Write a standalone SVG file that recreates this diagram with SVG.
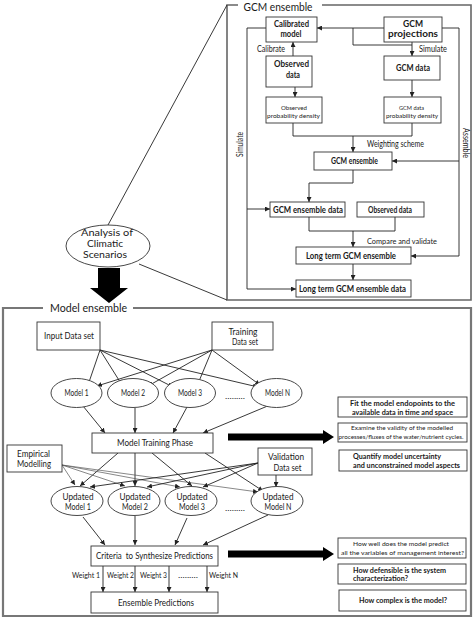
<svg xmlns="http://www.w3.org/2000/svg" width="474" height="620" viewBox="0 0 474 620">
<style>
text{font-family:Lato,"Liberation Sans",sans-serif;fill:#1a1a1a;text-anchor:middle}
.b{font-weight:bold}
.box{fill:#fff;stroke:#333;stroke-width:0.9}
.el{fill:#fff;stroke:#333;stroke-width:0.9}
.frame{fill:none;stroke:#666;stroke-width:1.6}
.frame2{fill:none;stroke:#777;stroke-width:2.2}
.c{fill:none;stroke:#222;stroke-width:0.9}
.g{fill:none;stroke:#555;stroke-width:0.7}
.a{marker-end:url(#ah)}
.t9{font-size:9px}
.t8{font-size:8.5px}
.t7{font-size:7.5px}
.t6{font-size:6px}
.lbl{font-size:11.5px}
.s{text-anchor:start}
</style>
<defs>
<marker id="ah" viewBox="0 0 10 10" refX="10" refY="5" markerWidth="5" markerHeight="5" orient="auto" markerUnits="userSpaceOnUse"><path d="M0,0 L10,5 L0,10 z" fill="#222"/></marker>
</defs>
<rect width="474" height="620" fill="#fff"/>

<g id="gcm-frame">
<path class="frame" d="M238,5 H227 V300 H471 V5 H322"/>
<text class="lbl" x="278" y="11" textLength="69" lengthAdjust="spacingAndGlyphs">GCM ensemble</text>
</g>
<g id="model-frame">
<path class="frame2" d="M43,308 H3 V616 H471 V308 H133"/>
<text class="lbl" x="88.5" y="312" textLength="77" lengthAdjust="spacingAndGlyphs">Model ensemble</text>
</g>

<g id="connectors">
<path class="c" d="M108,225 L227,5"/>
<path class="c" d="M139,264 L227,300"/>
<polygon points="98,268 120,268 120,288 128,288 109,303 90,288 98,288" fill="#000"/>
<path class="c a" d="M384,28 H317"/>
<path class="c" d="M353,28 V45 H412"/>
<path class="c a" d="M412,42 V56"/>
<path class="c a" d="M293,56 V42"/>
<path class="c a" d="M295,87 V97"/>
<path class="c a" d="M412,80 V97"/>
<path class="c" d="M293,123 V136 H412 V123"/>
<path class="c a" d="M353,136 V152"/>
<path class="c" d="M442,28 H459 V256"/>
<path class="c a" d="M459,256 H411"/>
<path class="c a" d="M459,161 H392"/>
<path class="c" d="M266,28 H247 V289"/>
<path class="c a" d="M247,289 H296"/>
<path class="c a" d="M247,209 H270"/>
<path class="c a" d="M353,170 V183 H309 V202"/>
<path class="c" d="M309,217 V231 H395 V217"/>
<path class="c a" d="M353,231 V247"/>
<path class="c a" d="M353,264 V280"/>
<path class="c a" d="M100,350 L88,385"/>
<path class="c a" d="M100,350 L122,385"/>
<path class="c a" d="M100,350 L173,387"/>
<path class="c a" d="M100,350 L258,387"/>
<path class="c a" d="M212,350 L97,386"/>
<path class="c a" d="M212,350 L148,386"/>
<path class="c a" d="M212,350 L197,386"/>
<path class="c a" d="M212,350 L260,385"/>
<path class="c a" d="M83,406 L105,433"/>
<path class="c a" d="M135,408 V433"/>
<path class="c a" d="M187,407 L173,433"/>
<path class="c a" d="M270,405 L203,433"/>
<path class="c a" d="M118,453 L80,486"/>
<path class="c a" d="M135,453 V486"/>
<path class="c a" d="M152,453 L192,486"/>
<path class="c a" d="M205,453 L263,491"/>
<path class="g a" d="M62,465 L75,485"/>
<path class="g a" d="M62,465 L125,486"/>
<path class="g a" d="M62,465 L180,487"/>
<path class="g a" d="M62,465 L258,492"/>
<path class="c a" d="M258,463 L90,487"/>
<path class="c a" d="M258,463 L147,487"/>
<path class="c a" d="M258,463 L203,487"/>
<path class="c a" d="M276,475 V487"/>
<path class="c a" d="M83,517 L105,545"/>
<path class="c a" d="M135,516 V545"/>
<path class="c a" d="M187,518 L175,545"/>
<path class="c a" d="M268,515 L203,545"/>
<path class="c a" d="M103,566 V592"/>
<path class="c a" d="M135,566 V592"/>
<path class="c a" d="M169,566 V592"/>
<path class="c a" d="M207,566 V592"/>
<polygon points="228,433.5 323,433.5 323,430 334,437 323,444 323,440.5 228,440.5" fill="#000"/>
<polygon points="228,550.5 323,550.5 323,547 334,554 323,561 323,557.5 228,557.5" fill="#000"/>
</g>

<g id="calibrated-model"><rect class="box" x="266" y="17" width="51" height="25"/><text class="t9 b" x="291.5" y="26.5" textLength="35" lengthAdjust="spacingAndGlyphs">Calibrated</text><text class="t9 b" x="291" y="37" textLength="21" lengthAdjust="spacingAndGlyphs">model</text></g>
<g id="gcm-projections"><rect class="box" x="384" y="17" width="58" height="25"/><text class="t9 b" x="413" y="26.5" textLength="20" lengthAdjust="spacingAndGlyphs">GCM</text><text class="t9 b" x="413" y="37" textLength="50" lengthAdjust="spacingAndGlyphs">projections</text></g>
<text class="t8" x="271" y="52" textLength="28" lengthAdjust="spacingAndGlyphs">Calibrate</text>
<text class="t8" x="433" y="52" textLength="28" lengthAdjust="spacingAndGlyphs">Simulate</text>
<g id="observed-data"><rect class="box" x="266" y="56" width="46" height="31"/><text class="t9 b" x="291.5" y="67" textLength="35" lengthAdjust="spacingAndGlyphs">Observed</text><text class="t9 b" x="293" y="78" textLength="14" lengthAdjust="spacingAndGlyphs">data</text></g>
<g id="gcm-data"><rect class="box" x="384" y="56" width="56" height="24"/><text class="t9 b" x="413" y="71" textLength="34" lengthAdjust="spacingAndGlyphs">GCM data</text></g>
<g id="observed-pd"><rect class="box" x="266" y="97" width="56" height="26"/><text class="t6" x="294" y="109.5" textLength="26" lengthAdjust="spacingAndGlyphs">Observed</text><text class="t6" x="293.5" y="117.5" textLength="53" lengthAdjust="spacingAndGlyphs">probability density</text></g>
<g id="gcm-pd"><rect class="box" x="384" y="97" width="57" height="26"/><text class="t6" x="411.5" y="109.5" textLength="25" lengthAdjust="spacingAndGlyphs">GCM data</text><text class="t6" x="412" y="117.5" textLength="52" lengthAdjust="spacingAndGlyphs">probability density</text></g>
<text class="t8" x="395.5" y="147" textLength="57" lengthAdjust="spacingAndGlyphs">Weighting scheme</text>
<g id="gcm-ensemble"><rect class="box" x="314" y="152" width="78" height="18"/><text class="t9 b" x="354.5" y="164" textLength="47" lengthAdjust="spacingAndGlyphs">GCM ensemble</text></g>
<text class="t8" transform="translate(242.5,144.5) rotate(-90)" textLength="25" lengthAdjust="spacingAndGlyphs">Simulate</text>
<text class="t8" transform="translate(462.5,143) rotate(90)" textLength="30" lengthAdjust="spacingAndGlyphs">Assemble</text>
<g id="gcm-ensemble-data"><rect class="box" x="270" y="202" width="75" height="15"/><text class="t9 b" x="308" y="212.5" textLength="70" lengthAdjust="spacingAndGlyphs">GCM ensemble data</text></g>
<g id="observed-data-2"><rect class="box" x="357" y="202" width="67" height="15"/><text class="t9 b" x="390" y="212.5" textLength="44" lengthAdjust="spacingAndGlyphs">Observed data</text></g>
<text class="t7" x="402" y="243.5" textLength="70" lengthAdjust="spacingAndGlyphs">Compare and validate</text>
<g id="long-term-gcm-ensemble"><rect class="box" x="296" y="247" width="115" height="17"/><text class="t9 b" x="351" y="259" textLength="90" lengthAdjust="spacingAndGlyphs">Long term GCM ensemble</text></g>
<g id="long-term-gcm-ensemble-data"><rect class="box" x="296" y="280" width="115" height="17"/><text class="t9 b" x="352.5" y="292" textLength="107" lengthAdjust="spacingAndGlyphs">Long term GCM ensemble data</text></g>

<g id="analysis"><ellipse class="el" cx="108" cy="246" rx="42" ry="21"/><text class="t9" x="107" y="236" textLength="52" lengthAdjust="spacingAndGlyphs">Analysis of</text><text class="t9" x="105" y="247" textLength="36" lengthAdjust="spacingAndGlyphs">Climatic</text><text class="t9" x="105" y="258" textLength="44" lengthAdjust="spacingAndGlyphs">Scenarios</text></g>

<g id="input-data"><rect class="box" x="37" y="322" width="63" height="28"/><text class="t8" x="69" y="339" textLength="50" lengthAdjust="spacingAndGlyphs">Input Data set</text></g>
<g id="training-data"><rect class="box" x="212" y="322" width="61" height="28"/><text class="t8" x="243" y="335" textLength="29" lengthAdjust="spacingAndGlyphs">Training</text><text class="t8" x="245" y="345" textLength="26" lengthAdjust="spacingAndGlyphs">Data set</text></g>
<g id="model-1"><ellipse class="el" cx="76.5" cy="393" rx="25.5" ry="14.5"/><text class="t8" x="76.5" y="396" textLength="24" lengthAdjust="spacingAndGlyphs">Model 1</text></g>
<g id="model-2"><ellipse class="el" cx="133" cy="393" rx="25.5" ry="14.5"/><text class="t8" x="133" y="396" textLength="24" lengthAdjust="spacingAndGlyphs">Model 2</text></g>
<g id="model-3"><ellipse class="el" cx="190" cy="393" rx="25.5" ry="14.5"/><text class="t8" x="190" y="396" textLength="24" lengthAdjust="spacingAndGlyphs">Model 3</text></g>
<text class="t7" x="235" y="399" textLength="20" lengthAdjust="spacingAndGlyphs">.........</text>
<g id="model-n"><ellipse class="el" cx="276.5" cy="393" rx="25.5" ry="14.5"/><text class="t8" x="277.5" y="396" textLength="25" lengthAdjust="spacingAndGlyphs">Model N</text></g>
<g id="model-training"><rect class="box" x="92" y="433" width="121" height="20"/><text class="t8" x="155" y="446" textLength="76" lengthAdjust="spacingAndGlyphs">Model Training Phase</text></g>
<g id="empirical"><rect class="box" x="7" y="445" width="55" height="27"/><text class="t8" x="33.5" y="457" textLength="33" lengthAdjust="spacingAndGlyphs">Empirical</text><text class="t8" x="34" y="467" textLength="34" lengthAdjust="spacingAndGlyphs">Modelling</text></g>
<g id="validation"><rect class="box" x="258" y="448" width="54" height="27"/><text class="t8" x="286" y="460" textLength="36" lengthAdjust="spacingAndGlyphs">Validation</text><text class="t8" x="287.5" y="470.5" textLength="28" lengthAdjust="spacingAndGlyphs">Data set</text></g>
<g id="updated-1"><ellipse class="el" cx="77" cy="501" rx="26" ry="14.5"/><text class="t8" x="78" y="500" textLength="31" lengthAdjust="spacingAndGlyphs">Updated</text><text class="t8" x="78" y="510" textLength="26" lengthAdjust="spacingAndGlyphs">Model 1</text></g>
<g id="updated-2"><ellipse class="el" cx="134" cy="501" rx="26" ry="14.5"/><text class="t8" x="135" y="500" textLength="31" lengthAdjust="spacingAndGlyphs">Updated</text><text class="t8" x="135" y="510" textLength="26" lengthAdjust="spacingAndGlyphs">Model 2</text></g>
<g id="updated-3"><ellipse class="el" cx="191" cy="501" rx="26" ry="14.5"/><text class="t8" x="192" y="500" textLength="31" lengthAdjust="spacingAndGlyphs">Updated</text><text class="t8" x="192" y="510" textLength="26" lengthAdjust="spacingAndGlyphs">Model 3</text></g>
<text class="t7" x="235" y="511" textLength="20" lengthAdjust="spacingAndGlyphs">.........</text>
<g id="updated-n"><ellipse class="el" cx="277" cy="501" rx="26" ry="14.5"/><text class="t8" x="278" y="500" textLength="31" lengthAdjust="spacingAndGlyphs">Updated</text><text class="t8" x="278" y="510" textLength="27" lengthAdjust="spacingAndGlyphs">Model N</text></g>
<g id="criteria"><rect class="box" x="91" y="546" width="127" height="20"/><text class="t8" x="154.5" y="559" xml:space="preserve" textLength="117" lengthAdjust="spacingAndGlyphs">Criteria  to Synthesize Predictions</text></g>
<text class="t7" x="86" y="578" textLength="28" lengthAdjust="spacingAndGlyphs">Weight 1</text>
<text class="t7" x="120.5" y="578" textLength="27" lengthAdjust="spacingAndGlyphs">Weight 2</text>
<text class="t7" x="153.5" y="578" textLength="27" lengthAdjust="spacingAndGlyphs">Weight 3</text>
<text class="t7" x="188" y="578" textLength="20" lengthAdjust="spacingAndGlyphs">.........</text>
<text class="t7" x="223.5" y="578" textLength="29" lengthAdjust="spacingAndGlyphs">Weight N</text>
<g id="ensemble-predictions"><rect class="box" x="91" y="592" width="127" height="21"/><text class="t8" x="156" y="605.5" textLength="76" lengthAdjust="spacingAndGlyphs">Ensemble Predictions</text></g>

<g id="fit"><rect class="box" x="338" y="397" width="129" height="20"/><text class="t7 b" x="402.5" y="405.5" textLength="105" lengthAdjust="spacingAndGlyphs">Fit the model endopoints to the</text><text class="t7 b" x="402.5" y="414.5" textLength="101" lengthAdjust="spacingAndGlyphs">available data in time and space</text></g>
<g id="examine"><rect class="box" x="338" y="423" width="129" height="19"/><text class="t6" x="402" y="430" textLength="102" lengthAdjust="spacingAndGlyphs">Examine the validity of the modelled</text><text class="t6" x="401" y="438.5" textLength="125" lengthAdjust="spacingAndGlyphs">processes/fluxes of the water/nutrient cycles.</text></g>
<g id="quantify"><rect class="box" x="339" y="450" width="128" height="21"/><text class="t7 b s" x="353" y="458.5" textLength="88" lengthAdjust="spacingAndGlyphs">Quantify model uncertainty</text><text class="t7 b s" x="353" y="467.5" textLength="107" lengthAdjust="spacingAndGlyphs">and unconstrained model aspects</text></g>
<g id="how-well"><rect class="box" x="338" y="538" width="128" height="20"/><text class="t6" x="401" y="546" textLength="96" lengthAdjust="spacingAndGlyphs">How well does the model predict</text><text class="t6" x="402.5" y="554.5" textLength="123" lengthAdjust="spacingAndGlyphs">all the variables of management interest?</text></g>
<g id="how-defensible"><rect class="box" x="338" y="564" width="128" height="20"/><text class="t7 b s" x="353" y="572.5" textLength="93" lengthAdjust="spacingAndGlyphs">How defensible is the system</text><text class="t7 b s" x="353" y="580.5" textLength="55" lengthAdjust="spacingAndGlyphs">characterization?</text></g>
<g id="how-complex"><rect class="box" x="339" y="590" width="127" height="21"/><text class="t7 b" x="403" y="603" textLength="88" lengthAdjust="spacingAndGlyphs">How complex is the model?</text></g>
</svg>
